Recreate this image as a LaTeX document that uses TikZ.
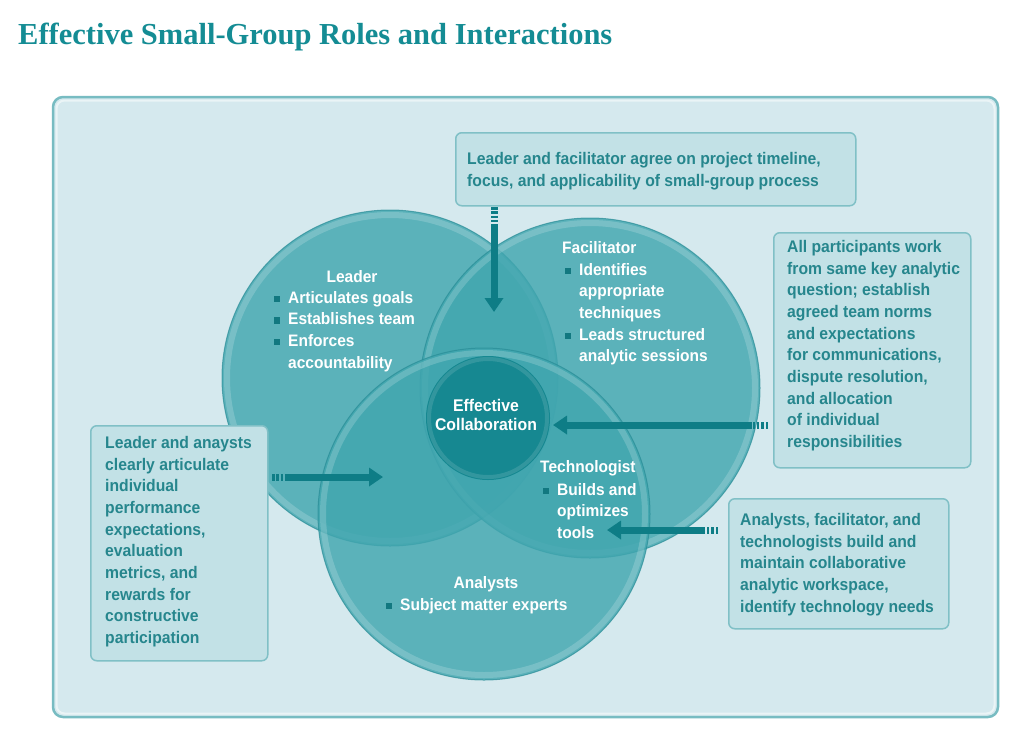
\documentclass[tikz,border=0pt]{standalone}
\usepackage{fontspec}
\setmainfont{Liberation Sans}
\newfontfamily\condfont[FakeStretch=0.935]{Liberation Sans}
\newfontfamily\titlefont{Liberation Serif}
\usetikzlibrary{arrows.meta}
\definecolor{panelbg}{RGB}{213,233,238}
\definecolor{panelbd}{RGB}{120,188,194}
\definecolor{boxbg}{RGB}{194,225,230}
\definecolor{boxbd}{RGB}{128,192,198}
\definecolor{boxtxt}{RGB}{38,134,141}
\definecolor{titlec}{RGB}{20,140,148}
\definecolor{circc}{RGB}{65,166,175}
\definecolor{circbd}{RGB}{40,140,150}
\definecolor{corec}{RGB}{22,136,145}
\definecolor{arrc}{RGB}{14,125,134}
\definecolor{bulc}{RGB}{18,120,128}
\newcommand{\bul}{\leavevmode\llap{\textcolor{bulc}{\raisebox{1pt}{\rule{6.5pt}{6.5pt}}}\hspace{8pt}}}
\begin{document}
\begin{tikzpicture}[x=1pt,y=-1pt,
  infobox/.style={draw=boxbd, line width=1.5pt, fill=boxbg, rounded corners=6pt, inner sep=0pt, anchor=north west},
  boxtext/.style={anchor=north west, inner sep=0pt, align=left, text=boxtxt, font=\condfont\bfseries\fontsize{16.8}{21.7}\selectfont},
  ctext/.style={text=white, inner sep=0pt, font=\condfont\bfseries\fontsize{16.6}{21.6}\selectfont},
  vcirc/.style={circle, inner sep=0pt, fill=circc, fill opacity=0.82, draw=circbd, draw opacity=0.7, line width=1pt},
  ring/.style={white, opacity=0.18, line width=6pt},
  stripes/.style={arrc, line width=7pt, dash pattern=on 2.5pt off 1.8pt},
  arr/.style={arrc, line width=7pt, -{Triangle[width=18pt,length=14pt]}}
]
\useasboundingbox (0,0) rectangle (1020,740);
\fill[white] (0,0) rectangle (1020,740);
% title
\node[anchor=base west, inner sep=0pt, text=titlec, font=\titlefont\bfseries\fontsize{30.5}{36}\selectfont] (title) at (18,44) {Effective Small-Group Roles and Interactions};
% panel
\draw[panelbd, line width=2.5pt, fill=panelbg, rounded corners=10pt] (53,97) rectangle (998,717);
\draw[white, opacity=0.5, line width=2pt, rounded corners=8pt] (56.5,100.5) rectangle (994.5,713.5);
% circles
\node[vcirc, minimum size=336pt] (leader) at (390,378) {};
\draw[ring] (leader.center) circle[radius=163pt];
\node[vcirc, minimum size=340pt] (facil) at (590,388) {};
\draw[ring] (facil.center) circle[radius=165pt];
\node[vcirc, minimum size=332pt] (analysts) at (484,514) {};
\draw[ring] (analysts.center) circle[radius=161pt];
\node[circle, inner sep=0pt, fill=corec, minimum size=124pt] (core) at (488,418) {};
\draw[white, opacity=0.12, line width=4pt] (core.center) circle[radius=59pt];
% circle texts
\node[ctext, anchor=north, align=center, font=\condfont\bfseries\fontsize{16.9}{19}\selectfont] (coretext) at (486,399) {Effective\\Collaboration};
\node[ctext, anchor=base] (leadT) at (352,282) {Leader};
\node[ctext, anchor=north west, align=left] (leadL) at (288,291) {\bul Articulates goals\\\bul Establishes team\\\bul Enforces\\accountability};
\node[ctext, anchor=base west] (facT) at (562,253) {Facilitator};
\node[ctext, anchor=north west, align=left] (facL) at (579,263) {\bul Identifies\\appropriate\\techniques\\\bul Leads structured\\analytic sessions};
\node[ctext, anchor=base west] (techT) at (540,472) {Technologist};
\node[ctext, anchor=north west, align=left] (techL) at (557,483) {\bul Builds and\\optimizes\\tools};
\node[ctext, anchor=base] (anT) at (486,588) {Analysts};
\node[ctext, anchor=base west] (anL) at (400,610) {\bul Subject matter experts};
% boxes
\node[infobox, minimum width=400pt, minimum height=73pt] (tbox) at (455,132) {};
\node[boxtext] (ttext) at (467,152) {Leader and facilitator agree on project timeline,\\focus, and applicability of small-group process};
\node[infobox, minimum width=197pt, minimum height=235pt] (rbox) at (773,232) {};
\node[boxtext] (rtext) at (787,240) {All participants work\\from same key analytic\\question; establish\\agreed team norms\\and expectations\\for communications,\\dispute resolution,\\and allocation\\of individual\\responsibilities};
\node[infobox, minimum width=177pt, minimum height=235pt] (lbox) at (90,425) {};
\node[boxtext] (ltext) at (105,436) {Leader and anaysts\\clearly articulate\\individual\\performance\\expectations,\\evaluation\\metrics, and\\rewards for\\constructive\\participation};
\node[infobox, minimum width=220pt, minimum height=130pt] (brbox) at (728,498) {};
\node[boxtext] (brtext) at (740,513) {Analysts, facilitator, and\\technologists build and\\maintain collaborative\\analytic workspace,\\identify technology needs};
% arrows
\coordinate (a1s) at (494,207); \coordinate (a1m) at (494,224); \coordinate (a1t) at (494,312);
\coordinate (a2s) at (768,425); \coordinate (a2m) at (752,425); \coordinate (a2t) at (553,425);
\coordinate (a3s) at (272,477); \coordinate (a3m) at (287,477); \coordinate (a3t) at (383,477);
\coordinate (a4s) at (718,530); \coordinate (a4m) at (703,530); \coordinate (a4t) at (607,530);
\draw[stripes] (a1s) -- (a1m); \draw[arr] (a1m) -- (a1t);
\draw[stripes] (a2s) -- (a2m); \draw[arr] (a2m) -- (a2t);
\draw[stripes] (a3s) -- (a3m); \draw[arr] (a3m) -- (a3t);
\draw[stripes] (a4s) -- (a4m); \draw[arr] (a4m) -- (a4t);
\end{tikzpicture}
\end{document}
